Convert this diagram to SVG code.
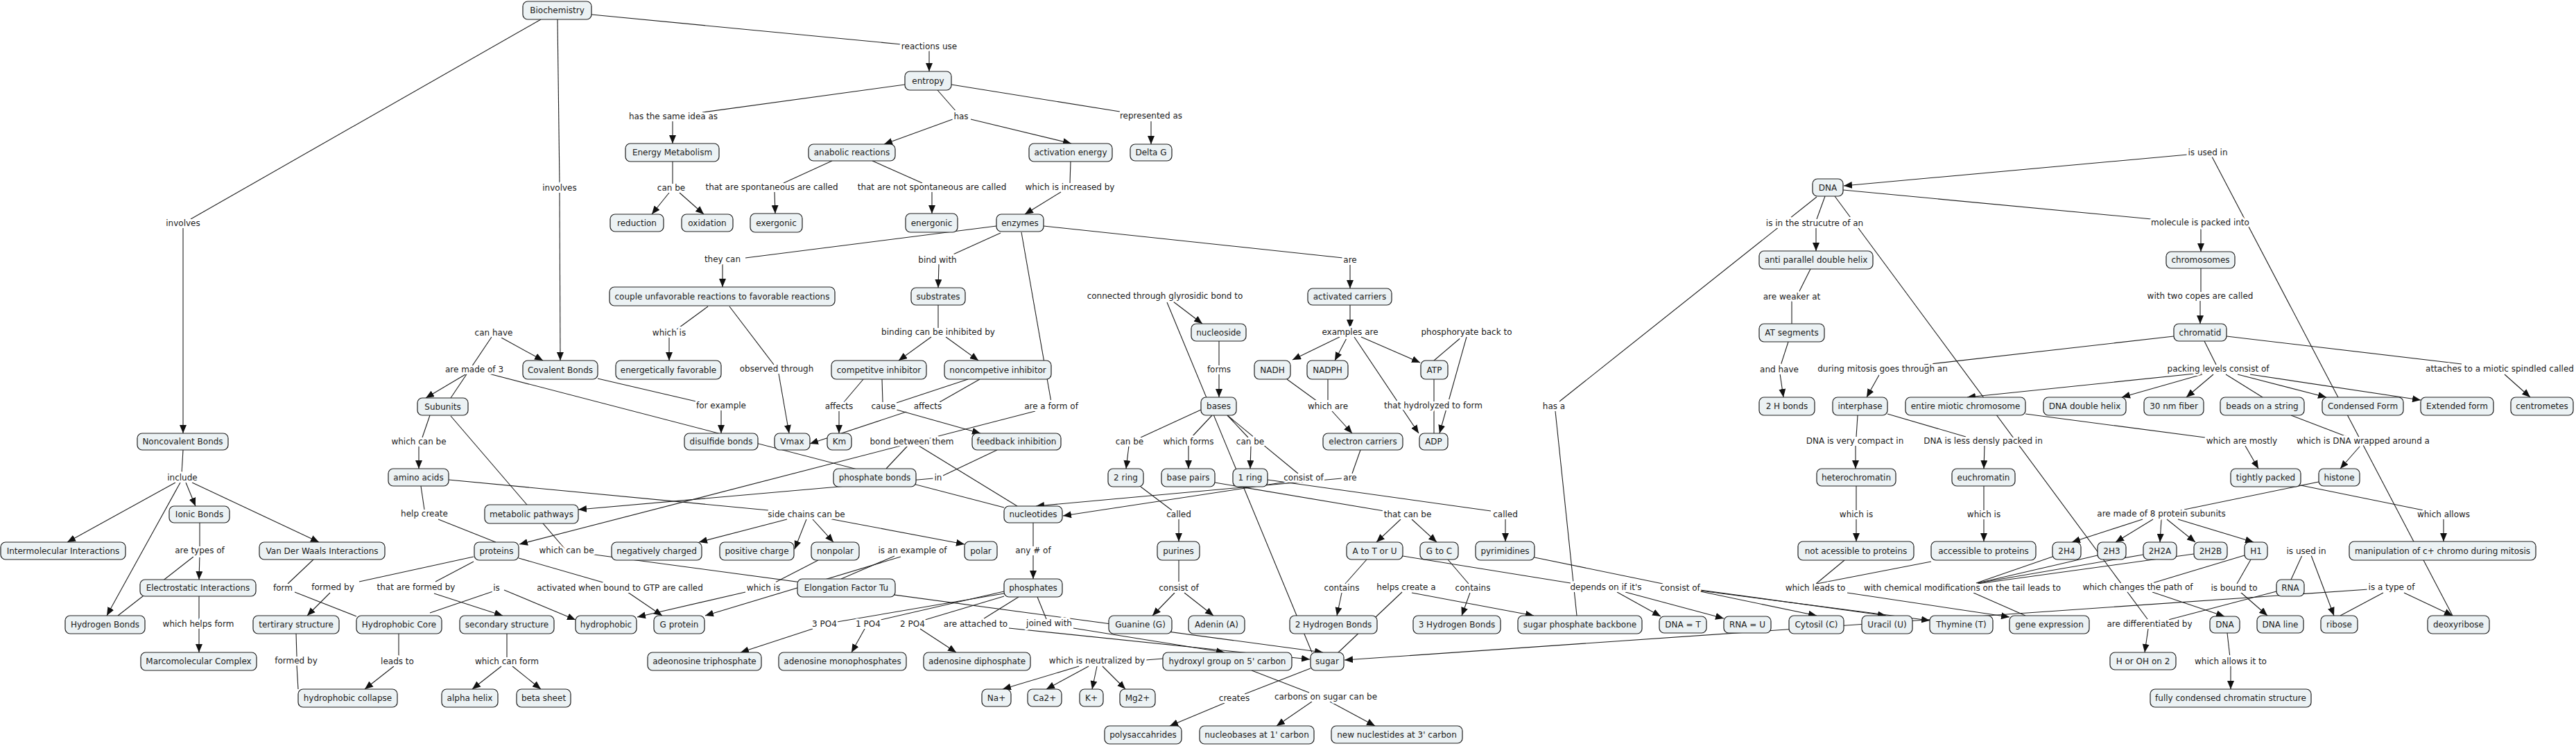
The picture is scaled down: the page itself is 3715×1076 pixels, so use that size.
<svg xmlns="http://www.w3.org/2000/svg" width="3715" height="1076" viewBox="0 0 3715 1076">
<defs>
<marker id="ah" markerUnits="userSpaceOnUse" markerWidth="12" markerHeight="10" refX="12" refY="5" orient="auto"><path d="M0,0 L12,5 L0,10 z" fill="#111"/></marker>
<style>
.c line{stroke:#1e1e1e;stroke-width:1.1;fill:none}
.c line.a{marker-end:url(#ah)}
.n rect{fill:#ecf2f4;stroke:#1e1e1e;stroke-width:1.2}
.n text,.l text{font-family:"DejaVu Sans",Verdana,sans-serif;font-size:12px;fill:#1a1a1a;text-anchor:middle}
.l text{stroke:#fff;stroke-width:6;stroke-linejoin:round;paint-order:stroke}
</style>
</defs>
<rect width="3715" height="1076" fill="#fff"/>
<g class="c" id="connectors">
<line x1="853" y1="21" x2="1300" y2="64"/>
<line class="a" x1="1340" y1="73" x2="1340" y2="103"/>
<line x1="804" y1="28" x2="807" y2="265"/>
<line class="a" x1="807" y1="278" x2="808" y2="520"/>
<line x1="780" y1="28" x2="275" y2="316"/>
<line class="a" x1="264" y1="329" x2="264" y2="625"/>
<line x1="1305" y1="122" x2="1013" y2="162"/>
<line class="a" x1="970" y1="175" x2="970" y2="207"/>
<line x1="1352" y1="130" x2="1380" y2="162"/>
<line class="a" x1="1374" y1="172" x2="1275" y2="208"/>
<line class="a" x1="1400" y1="172" x2="1545" y2="207"/>
<line x1="1372" y1="122" x2="1615" y2="161"/>
<line class="a" x1="1660" y1="175" x2="1660" y2="208"/>
<line x1="970" y1="233" x2="970" y2="265"/>
<line class="a" x1="965" y1="278" x2="940" y2="309"/>
<line class="a" x1="980" y1="278" x2="1015" y2="309"/>
<line x1="1200" y1="232" x2="1130" y2="264"/>
<line class="a" x1="1117" y1="277" x2="1118" y2="308"/>
<line x1="1258" y1="232" x2="1330" y2="264"/>
<line class="a" x1="1344" y1="277" x2="1344" y2="308"/>
<line x1="1544" y1="233" x2="1543" y2="264"/>
<line class="a" x1="1530" y1="277" x2="1478" y2="309"/>
<line x1="1437" y1="326" x2="1075" y2="372"/>
<line class="a" x1="1042" y1="381" x2="1042" y2="414"/>
<line x1="1443" y1="336" x2="1370" y2="369"/>
<line class="a" x1="1354" y1="381" x2="1353" y2="415"/>
<line x1="1505" y1="326" x2="1937" y2="372"/>
<line class="a" x1="1947" y1="381" x2="1947" y2="416"/>
<line x1="1473" y1="335" x2="1516" y2="580"/>
<line class="a" x1="1493" y1="593" x2="749" y2="785"/>
<line x1="1353" y1="440" x2="1353" y2="473"/>
<line class="a" x1="1343" y1="486" x2="1296" y2="520"/>
<line class="a" x1="1364" y1="486" x2="1411" y2="520"/>
<line x1="1021" y1="442" x2="976" y2="475"/>
<line class="a" x1="965" y1="486" x2="965" y2="520"/>
<line x1="1052" y1="442" x2="1116" y2="526"/>
<line class="a" x1="1123" y1="539" x2="1138" y2="625"/>
<line class="a" x1="1947" y1="440" x2="1947" y2="473"/>
<line class="a" x1="1932" y1="486" x2="1864" y2="519"/>
<line class="a" x1="1943" y1="486" x2="1925" y2="520"/>
<line class="a" x1="1953" y1="486" x2="2046" y2="625"/>
<line class="a" x1="1963" y1="486" x2="2048" y2="523"/>
<line x1="2068" y1="520" x2="2108" y2="486"/>
<line class="a" x1="2115" y1="486" x2="2076" y2="625"/>
<line x1="2068" y1="547" x2="2068" y2="579"/>
<line x1="2068" y1="591" x2="2068" y2="625"/>
<line x1="1856" y1="547" x2="1900" y2="579"/>
<line x1="1915" y1="547" x2="1915" y2="579"/>
<line class="a" x1="1921" y1="593" x2="1950" y2="625"/>
<line x1="1962" y1="649" x2="1950" y2="683"/>
<line class="a" x1="1935" y1="690" x2="1494" y2="730"/>
<line x1="1770" y1="599" x2="1872" y2="683"/>
<line class="a" x1="1862" y1="694" x2="1533" y2="744"/>
<line x1="1892" y1="941" x2="1683" y2="436"/>
<line class="a" x1="1692" y1="435" x2="1734" y2="467"/>
<line x1="1758" y1="492" x2="1758" y2="527"/>
<line class="a" x1="1758" y1="539" x2="1758" y2="573"/>
<line x1="1732" y1="591" x2="1645" y2="631"/>
<line class="a" x1="1628" y1="643" x2="1624" y2="676"/>
<line x1="1748" y1="599" x2="1718" y2="631"/>
<line class="a" x1="1714" y1="643" x2="1714" y2="676"/>
<line x1="1770" y1="599" x2="1800" y2="631"/>
<line class="a" x1="1804" y1="643" x2="1803" y2="676"/>
<line x1="1645" y1="702" x2="1690" y2="736"/>
<line class="a" x1="1700" y1="748" x2="1700" y2="781"/>
<line x1="1700" y1="808" x2="1700" y2="842"/>
<line class="a" x1="1694" y1="855" x2="1662" y2="888"/>
<line class="a" x1="1708" y1="855" x2="1750" y2="888"/>
<line x1="1752" y1="696" x2="1996" y2="737"/>
<line class="a" x1="2020" y1="749" x2="1985" y2="782"/>
<line class="a" x1="2036" y1="749" x2="2072" y2="782"/>
<line x1="1828" y1="692" x2="2150" y2="737"/>
<line class="a" x1="2171" y1="749" x2="2171" y2="781"/>
<line x1="1971" y1="807" x2="1940" y2="842"/>
<line class="a" x1="1935" y1="855" x2="1928" y2="888"/>
<line x1="2088" y1="807" x2="2118" y2="842"/>
<line class="a" x1="2120" y1="855" x2="2108" y2="888"/>
<line x1="1929" y1="942" x2="2022" y2="854"/>
<line class="a" x1="2036" y1="855" x2="2212" y2="888"/>
<line x1="2023" y1="802" x2="2265" y2="841"/>
<line class="a" x1="2332" y1="854" x2="2395" y2="889"/>
<line class="a" x1="2344" y1="854" x2="2486" y2="892"/>
<line x1="2213" y1="804" x2="2398" y2="842"/>
<line class="a" x1="2452" y1="853" x2="2620" y2="888"/>
<line class="a" x1="2452" y1="851" x2="2720" y2="888"/>
<line class="a" x1="2452" y1="852" x2="2783" y2="895"/>
<line x1="2620" y1="284" x2="2249" y2="579"/>
<line x1="2243" y1="593" x2="2274" y2="888"/>
<line class="a" x1="3416" y1="850" x2="1939" y2="952"/>
<line x1="3375" y1="888" x2="3437" y2="855"/>
<line class="a" x1="3467" y1="855" x2="3537" y2="888"/>
<line x1="3304" y1="836" x2="3320" y2="801"/>
<line class="a" x1="3333" y1="801" x2="3366" y2="888"/>
<line x1="3537" y1="888" x2="3190" y2="226"/>
<line class="a" x1="3155" y1="223" x2="2659" y2="268"/>
<line x1="2632" y1="283" x2="2620" y2="316"/>
<line class="a" x1="2619" y1="328" x2="2619" y2="362"/>
<line x1="2658" y1="274" x2="3103" y2="316"/>
<line class="a" x1="3174" y1="328" x2="3174" y2="363"/>
<line x1="2646" y1="283" x2="3097" y2="893"/>
<line x1="3283" y1="853" x2="3127" y2="894"/>
<line class="a" x1="3098" y1="907" x2="3093" y2="941"/>
<line x1="2611" y1="388" x2="2594" y2="422"/>
<line x1="2584" y1="434" x2="2584" y2="467"/>
<line x1="2579" y1="493" x2="2568" y2="527"/>
<line class="a" x1="2567" y1="539" x2="2572" y2="573"/>
<line x1="3174" y1="387" x2="3174" y2="421"/>
<line class="a" x1="3173" y1="434" x2="3173" y2="467"/>
<line x1="3135" y1="485" x2="2775" y2="526"/>
<line class="a" x1="2711" y1="539" x2="2692" y2="573"/>
<line x1="3179" y1="492" x2="3196" y2="526"/>
<line class="a" x1="3175" y1="538" x2="2837" y2="573"/>
<line class="a" x1="3176" y1="540" x2="3060" y2="573"/>
<line class="a" x1="3192" y1="540" x2="3153" y2="573"/>
<line x1="3210" y1="540" x2="3263" y2="573"/>
<line class="a" x1="3227" y1="540" x2="3355" y2="573"/>
<line class="a" x1="3245" y1="540" x2="3491" y2="577"/>
<line x1="3211" y1="485" x2="3550" y2="525"/>
<line class="a" x1="3612" y1="540" x2="3649" y2="573"/>
<line x1="2679" y1="599" x2="2677" y2="630"/>
<line class="a" x1="2676" y1="643" x2="2676" y2="676"/>
<line x1="2722" y1="597" x2="2835" y2="630"/>
<line class="a" x1="2862" y1="643" x2="2861" y2="676"/>
<line x1="2677" y1="701" x2="2677" y2="736"/>
<line class="a" x1="2677" y1="749" x2="2677" y2="781"/>
<line x1="2861" y1="701" x2="2861" y2="736"/>
<line class="a" x1="2861" y1="749" x2="2861" y2="781"/>
<line x1="2660" y1="808" x2="2619" y2="842"/>
<line x1="2785" y1="810" x2="2620" y2="842"/>
<line class="a" x1="2664" y1="855" x2="2898" y2="890"/>
<line x1="2960" y1="803" x2="2850" y2="841"/>
<line x1="3025" y1="801" x2="2852" y2="841"/>
<line x1="3091" y1="800" x2="2852" y2="841"/>
<line x1="3164" y1="799" x2="2852" y2="842"/>
<line x1="2846" y1="855" x2="2921" y2="888"/>
<line x1="2921" y1="597" x2="3180" y2="631"/>
<line class="a" x1="3238" y1="643" x2="3257" y2="676"/>
<line x1="3304" y1="599" x2="3385" y2="630"/>
<line class="a" x1="3403" y1="644" x2="3375" y2="676"/>
<line x1="3344" y1="695" x2="3150" y2="735"/>
<line class="a" x1="3090" y1="749" x2="2988" y2="782"/>
<line class="a" x1="3105" y1="749" x2="3051" y2="782"/>
<line class="a" x1="3117" y1="749" x2="3115" y2="782"/>
<line class="a" x1="3125" y1="749" x2="3166" y2="782"/>
<line class="a" x1="3141" y1="749" x2="3250" y2="782"/>
<line x1="3318" y1="700" x2="3495" y2="736"/>
<line class="a" x1="3524" y1="749" x2="3524" y2="781"/>
<line x1="3246" y1="807" x2="3226" y2="842"/>
<line class="a" x1="3231" y1="854" x2="3270" y2="888"/>
<line x1="3237" y1="801" x2="3104" y2="841"/>
<line class="a" x1="3104" y1="854" x2="3208" y2="889"/>
<line x1="3212" y1="913" x2="3216" y2="948"/>
<line class="a" x1="3217" y1="960" x2="3217" y2="994"/>
<line x1="264" y1="649" x2="262" y2="683"/>
<line class="a" x1="253" y1="696" x2="97" y2="782"/>
<line class="a" x1="260" y1="696" x2="154" y2="888"/>
<line class="a" x1="268" y1="696" x2="282" y2="730"/>
<line class="a" x1="277" y1="696" x2="460" y2="782"/>
<line x1="288" y1="754" x2="288" y2="788"/>
<line class="a" x1="288" y1="800" x2="287" y2="836"/>
<line x1="170" y1="888" x2="279" y2="803"/>
<line x1="287" y1="860" x2="287" y2="894"/>
<line class="a" x1="287" y1="906" x2="287" y2="941"/>
<line x1="452" y1="807" x2="415" y2="842"/>
<line x1="425" y1="854" x2="514" y2="889"/>
<line x1="683" y1="803" x2="518" y2="839"/>
<line class="a" x1="476" y1="855" x2="443" y2="888"/>
<line x1="427" y1="914" x2="428" y2="947"/>
<line x1="428" y1="960" x2="430" y2="994"/>
<line x1="575" y1="914" x2="575" y2="948"/>
<line class="a" x1="568" y1="961" x2="526" y2="994"/>
<line x1="683" y1="810" x2="628" y2="839"/>
<line class="a" x1="626" y1="856" x2="725" y2="888"/>
<line x1="620" y1="884" x2="711" y2="853"/>
<line class="a" x1="727" y1="851" x2="830" y2="894"/>
<line x1="731" y1="914" x2="731" y2="948"/>
<line class="a" x1="723" y1="961" x2="681" y2="994"/>
<line class="a" x1="739" y1="961" x2="780" y2="994"/>
<line x1="650" y1="574" x2="709" y2="486"/>
<line class="a" x1="723" y1="487" x2="783" y2="520"/>
<line x1="1448" y1="732" x2="705" y2="539"/>
<line class="a" x1="673" y1="539" x2="614" y2="574"/>
<line x1="620" y1="599" x2="609" y2="631"/>
<line class="a" x1="604" y1="644" x2="604" y2="676"/>
<line x1="650" y1="600" x2="814" y2="791"/>
<line class="a" x1="850" y1="799" x2="1908" y2="941"/>
<line x1="862" y1="546" x2="1004" y2="579"/>
<line class="a" x1="1040" y1="592" x2="1040" y2="625"/>
<line x1="1245" y1="547" x2="1217" y2="580"/>
<line class="a" x1="1210" y1="592" x2="1210" y2="625"/>
<line x1="1413" y1="547" x2="1355" y2="580"/>
<line class="a" x1="1307" y1="594" x2="1168" y2="640"/>
<line x1="1272" y1="547" x2="1273" y2="580"/>
<line x1="1396" y1="547" x2="1293" y2="581"/>
<line class="a" x1="1293" y1="591" x2="1414" y2="625"/>
<line x1="1438" y1="649" x2="1360" y2="686"/>
<line class="a" x1="1346" y1="690" x2="834" y2="735"/>
<line x1="1467" y1="730" x2="1325" y2="643"/>
<line x1="1309" y1="643" x2="1278" y2="676"/>
<line x1="647" y1="692" x2="1108" y2="736"/>
<line class="a" x1="1135" y1="749" x2="1008" y2="782"/>
<line class="a" x1="1163" y1="749" x2="1146" y2="792"/>
<line class="a" x1="1172" y1="749" x2="1202" y2="782"/>
<line class="a" x1="1195" y1="748" x2="1391" y2="785"/>
<line x1="607" y1="701" x2="612" y2="735"/>
<line x1="632" y1="749" x2="715" y2="782"/>
<line x1="1180" y1="808" x2="1114" y2="842"/>
<line class="a" x1="1075" y1="854" x2="919" y2="890"/>
<line x1="748" y1="805" x2="873" y2="841"/>
<line class="a" x1="905" y1="854" x2="955" y2="888"/>
<line x1="1213" y1="835" x2="1290" y2="802"/>
<line class="a" x1="1299" y1="803" x2="1017" y2="888"/>
<line x1="1490" y1="754" x2="1490" y2="788"/>
<line class="a" x1="1490" y1="801" x2="1490" y2="835"/>
<line x1="1448" y1="856" x2="1207" y2="897"/>
<line class="a" x1="1172" y1="907" x2="1068" y2="941"/>
<line x1="1448" y1="853" x2="1270" y2="894"/>
<line class="a" x1="1247" y1="907" x2="1228" y2="941"/>
<line x1="1448" y1="860" x2="1334" y2="894"/>
<line class="a" x1="1327" y1="907" x2="1379" y2="941"/>
<line x1="1469" y1="861" x2="1416" y2="894"/>
<line class="a" x1="1455" y1="906" x2="1889" y2="951"/>
<line x1="1496" y1="861" x2="1509" y2="893"/>
<line class="a" x1="1548" y1="906" x2="1766" y2="941"/>
<line x1="1677" y1="950" x2="1652" y2="952"/>
<line class="a" x1="1556" y1="961" x2="1446" y2="994"/>
<line class="a" x1="1570" y1="961" x2="1509" y2="994"/>
<line class="a" x1="1582" y1="961" x2="1575" y2="994"/>
<line class="a" x1="1590" y1="961" x2="1623" y2="994"/>
<line x1="1890" y1="964" x2="1795" y2="1001"/>
<line class="a" x1="1766" y1="1014" x2="1687" y2="1047"/>
<line x1="1805" y1="967" x2="1888" y2="999"/>
<line class="a" x1="1892" y1="1012" x2="1841" y2="1047"/>
<line class="a" x1="1918" y1="1012" x2="1983" y2="1047"/>
</g>
<g class="l" id="labels">
<text x="1340" y="71">reactions use</text>
<text x="264" y="326">involves</text>
<text x="807" y="275">involves</text>
<text x="971" y="172">has the same idea as</text>
<text x="1386" y="172">has</text>
<text x="1660" y="171">represented as</text>
<text x="968" y="275">can be</text>
<text x="1113" y="274">that are spontaneous are called</text>
<text x="1344" y="274">that are not spontaneous are called</text>
<text x="1543" y="274">which is increased by</text>
<text x="1042" y="378">they can</text>
<text x="1352" y="379">bind with</text>
<text x="1947" y="379">are</text>
<text x="965" y="484">which is</text>
<text x="1353" y="483">binding can be inhibited by</text>
<text x="1947" y="483">examples are</text>
<text x="2115" y="483">phosphoryate back to</text>
<text x="1680" y="431">connected through glyrosidic bond to</text>
<text x="712" y="484">can have</text>
<text x="1120" y="536">observed through</text>
<text x="684" y="537">are made of 3</text>
<text x="1758" y="537">forms</text>
<text x="1040" y="589">for example</text>
<text x="1210" y="590">affects</text>
<text x="1274" y="590">cause</text>
<text x="1338" y="590">affects</text>
<text x="1516" y="590">are a form of</text>
<text x="1915" y="590">which are</text>
<text x="2067" y="589">that hydrolyzed to form</text>
<text x="2241" y="590">has a</text>
<text x="2617" y="326">is in the strucutre of an</text>
<text x="3173" y="325">molecule is packed into</text>
<text x="3184" y="224">is used in</text>
<text x="2584" y="432">are weaker at</text>
<text x="3173" y="431">with two copes are called</text>
<text x="2566" y="537">and have</text>
<text x="2715" y="536">during mitosis goes through an</text>
<text x="3199" y="536">packing levels consist of</text>
<text x="3605" y="536">attaches to a miotic spindled called</text>
<text x="604" y="641">which can be</text>
<text x="1315" y="641">bond between them</text>
<text x="1629" y="641">can be</text>
<text x="1714" y="641">which forms</text>
<text x="1803" y="641">can be</text>
<text x="2675" y="640">DNA is very compact in</text>
<text x="2860" y="640">DNA is less densly packed in</text>
<text x="3233" y="640">which are mostly</text>
<text x="3408" y="640">which is DNA wrapped around a</text>
<text x="263" y="693">include</text>
<text x="1353" y="693">in</text>
<text x="1880" y="693">consist of</text>
<text x="1947" y="693">are</text>
<text x="612" y="745">help create</text>
<text x="1163" y="746">side chains can be</text>
<text x="1700" y="746">called</text>
<text x="2030" y="746">that can be</text>
<text x="2171" y="746">called</text>
<text x="2677" y="746">which is</text>
<text x="2861" y="746">which is</text>
<text x="3117" y="745">are made of 8 protein subunits</text>
<text x="3524" y="746">which allows</text>
<text x="288" y="798">are types of</text>
<text x="817" y="798">which can be</text>
<text x="1316" y="798">is an example of</text>
<text x="1490" y="798">any # of</text>
<text x="3326" y="799">is used in</text>
<text x="408" y="852">form</text>
<text x="480" y="851">formed by</text>
<text x="600" y="851">that are formed by</text>
<text x="716" y="852">is</text>
<text x="894" y="852">activated when bound to GTP are called</text>
<text x="1101" y="852">which is</text>
<text x="1700" y="852">consist of</text>
<text x="1935" y="852">contains</text>
<text x="2028" y="851">helps create a</text>
<text x="2124" y="852">contains</text>
<text x="2316" y="851">depends on if it's</text>
<text x="2423" y="852">consist of</text>
<text x="2618" y="852">which leads to</text>
<text x="2830" y="852">with chemical modifications on the tail leads to</text>
<text x="3083" y="851">which changes the path of</text>
<text x="3222" y="852">is bound to</text>
<text x="3449" y="851">is a type of</text>
<text x="286" y="904">which helps form</text>
<text x="1189" y="904">3 PO4</text>
<text x="1252" y="904">1 PO4</text>
<text x="1316" y="904">2 PO4</text>
<text x="1407" y="904">are attached to</text>
<text x="1513" y="903">joined with</text>
<text x="3100" y="904">are differentiated by</text>
<text x="427" y="957">formed by</text>
<text x="573" y="958">leads to</text>
<text x="731" y="958">which can form</text>
<text x="1582" y="957">which is neutralized by</text>
<text x="3217" y="958">which allows it to</text>
<text x="1912" y="1009">carbons on sugar can be</text>
<text x="1780" y="1011">creates</text>
</g>
<g class="n" id="nodes">
<g id="n_biochem"><rect x="754" y="2" width="99" height="26" rx="7"/><text x="803.5" y="19">Biochemistry</text></g>
<g id="n_entropy"><rect x="1305" y="103" width="67" height="27" rx="7"/><text x="1338.5" y="120.5">entropy</text></g>
<g id="n_energymet"><rect x="902" y="207" width="135" height="26" rx="7"/><text x="969.5" y="224">Energy Metabolism</text></g>
<g id="n_anabolic"><rect x="1166" y="208" width="125" height="24" rx="7"/><text x="1228.5" y="224">anabolic reactions</text></g>
<g id="n_activation"><rect x="1484" y="207" width="120" height="26" rx="7"/><text x="1544" y="224">activation energy</text></g>
<g id="n_deltag"><rect x="1630" y="208" width="60" height="24" rx="7"/><text x="1660" y="224">Delta G</text></g>
<g id="n_reduction"><rect x="880" y="309" width="77" height="25" rx="7"/><text x="918.5" y="325.5">reduction</text></g>
<g id="n_oxidation"><rect x="983" y="309" width="74" height="25" rx="7"/><text x="1020" y="325.5">oxidation</text></g>
<g id="n_exergonic"><rect x="1082" y="308" width="75" height="27" rx="7"/><text x="1119.5" y="325.5">exergonic</text></g>
<g id="n_energonic"><rect x="1306" y="308" width="75" height="27" rx="7"/><text x="1343.5" y="325.5">energonic</text></g>
<g id="n_enzymes"><rect x="1437" y="309" width="68" height="25" rx="7"/><text x="1471" y="325.5">enzymes</text></g>
<g id="n_couple"><rect x="879" y="414" width="325" height="27" rx="7"/><text x="1041.5" y="431.5">couple unfavorable reactions to favorable reactions</text></g>
<g id="n_substrates"><rect x="1314" y="415" width="78" height="25" rx="7"/><text x="1353" y="431.5">substrates</text></g>
<g id="n_actcarriers"><rect x="1886" y="416" width="121" height="24" rx="7"/><text x="1946.5" y="432">activated carriers</text></g>
<g id="n_nucleoside"><rect x="1718" y="467" width="79" height="25" rx="7"/><text x="1757.5" y="483.5">nucleoside</text></g>
<g id="n_covalent"><rect x="754" y="520" width="108" height="27" rx="7"/><text x="808" y="537.5">Covalent Bonds</text></g>
<g id="n_energfav"><rect x="888" y="520" width="152" height="27" rx="7"/><text x="964" y="537.5">energetically favorable</text></g>
<g id="n_compinh"><rect x="1199" y="520" width="137" height="27" rx="7"/><text x="1267.5" y="537.5">competitve inhibitor</text></g>
<g id="n_noncompinh"><rect x="1362" y="520" width="154" height="27" rx="7"/><text x="1439" y="537.5">noncompetive inhibitor</text></g>
<g id="n_nadh"><rect x="1809" y="520" width="52" height="27" rx="7"/><text x="1835" y="537.5">NADH</text></g>
<g id="n_nadph"><rect x="1885" y="520" width="59" height="27" rx="7"/><text x="1914.5" y="537.5">NADPH</text></g>
<g id="n_atp"><rect x="2049" y="520" width="39" height="27" rx="7"/><text x="2068.5" y="537.5">ATP</text></g>
<g id="n_dna"><rect x="2614" y="258" width="44" height="25" rx="7"/><text x="2636" y="274.5">DNA</text></g>
<g id="n_antipar"><rect x="2537" y="362" width="164" height="26" rx="7"/><text x="2619" y="379">anti parallel double helix</text></g>
<g id="n_chromosomes"><rect x="3124" y="363" width="99" height="24" rx="7"/><text x="3173.5" y="379">chromosomes</text></g>
<g id="n_atseg"><rect x="2537" y="467" width="94" height="26" rx="7"/><text x="2584" y="484">AT segments</text></g>
<g id="n_chromatid"><rect x="3135" y="467" width="76" height="25" rx="7"/><text x="3173" y="483.5">chromatid</text></g>
<g id="n_subunits"><rect x="602" y="574" width="73" height="25" rx="7"/><text x="638.5" y="590.5">Subunits</text></g>
<g id="n_noncov"><rect x="198" y="625" width="131" height="24" rx="7"/><text x="263.5" y="641">Noncovalent Bonds</text></g>
<g id="n_disulfide"><rect x="987" y="625" width="106" height="24" rx="7"/><text x="1040" y="641">disulfide bonds</text></g>
<g id="n_vmax"><rect x="1117" y="625" width="51" height="24" rx="7"/><text x="1142.5" y="641">Vmax</text></g>
<g id="n_km"><rect x="1193" y="625" width="35" height="24" rx="7"/><text x="1210.5" y="641">Km</text></g>
<g id="n_feedback"><rect x="1402" y="625" width="128" height="24" rx="7"/><text x="1466" y="641">feedback inhibition</text></g>
<g id="n_electron"><rect x="1908" y="625" width="115" height="24" rx="7"/><text x="1965.5" y="641">electron carriers</text></g>
<g id="n_adp"><rect x="2047" y="625" width="41" height="24" rx="7"/><text x="2067.5" y="641">ADP</text></g>
<g id="n_bases"><rect x="1732" y="573" width="51" height="26" rx="7"/><text x="1757.5" y="590">bases</text></g>
<g id="n_2hbonds"><rect x="2537" y="573" width="80" height="26" rx="7"/><text x="2577" y="590">2 H bonds</text></g>
<g id="n_interphase"><rect x="2643" y="573" width="79" height="26" rx="7"/><text x="2682.5" y="590">interphase</text></g>
<g id="n_entire"><rect x="2748" y="573" width="173" height="26" rx="7"/><text x="2834.5" y="590">entire miotic chromosome</text></g>
<g id="n_dnadh"><rect x="2947" y="573" width="119" height="26" rx="7"/><text x="3006.5" y="590">DNA double helix</text></g>
<g id="n_30nm"><rect x="3092" y="573" width="86" height="26" rx="7"/><text x="3135" y="590">30 nm fiber</text></g>
<g id="n_beads"><rect x="3202" y="573" width="121" height="26" rx="7"/><text x="3262.5" y="590">beads on a string</text></g>
<g id="n_condensed"><rect x="3349" y="573" width="117" height="26" rx="7"/><text x="3407.5" y="590">Condensed Form</text></g>
<g id="n_extended"><rect x="3491" y="573" width="105" height="26" rx="7"/><text x="3543.5" y="590">Extended form</text></g>
<g id="n_centro"><rect x="3621" y="573" width="90" height="26" rx="7"/><text x="3666" y="590">centrometes</text></g>
<g id="n_amino"><rect x="560" y="676" width="87" height="25" rx="7"/><text x="603.5" y="692.5">amino acids</text></g>
<g id="n_phosbonds"><rect x="1202" y="676" width="119" height="26" rx="7"/><text x="1261.5" y="693">phosphate bonds</text></g>
<g id="n_2ring"><rect x="1598" y="676" width="51" height="26" rx="7"/><text x="1623.5" y="693">2 ring</text></g>
<g id="n_basepairs"><rect x="1675" y="676" width="77" height="26" rx="7"/><text x="1713.5" y="693">base pairs</text></g>
<g id="n_1ring"><rect x="1778" y="676" width="50" height="26" rx="7"/><text x="1803" y="693">1 ring</text></g>
<g id="n_hetero"><rect x="2620" y="676" width="114" height="25" rx="7"/><text x="2677" y="692.5">heterochromatin</text></g>
<g id="n_euchro"><rect x="2815" y="676" width="91" height="25" rx="7"/><text x="2860.5" y="692.5">euchromatin</text></g>
<g id="n_tightly"><rect x="3217" y="676" width="101" height="26" rx="7"/><text x="3267.5" y="693">tightly packed</text></g>
<g id="n_histone"><rect x="3344" y="676" width="59" height="25" rx="7"/><text x="3373.5" y="692.5">histone</text></g>
<g id="n_ionic"><rect x="244" y="730" width="87" height="24" rx="7"/><text x="287.5" y="746">Ionic Bonds</text></g>
<g id="n_metabolic"><rect x="699" y="728" width="135" height="27" rx="7"/><text x="766.5" y="745.5">metabolic pathways</text></g>
<g id="n_nucleotides"><rect x="1448" y="730" width="84" height="24" rx="7"/><text x="1490" y="746">nucleotides</text></g>
<g id="n_intermol"><rect x="1" y="782" width="180" height="25" rx="7"/><text x="91" y="798.5">Intermolecular Interactions</text></g>
<g id="n_vdw"><rect x="374" y="782" width="181" height="25" rx="7"/><text x="464.5" y="798.5">Van Der Waals Interactions</text></g>
<g id="n_proteins"><rect x="684" y="782" width="64" height="26" rx="7"/><text x="716" y="799">proteins</text></g>
<g id="n_negchg"><rect x="882" y="782" width="130" height="26" rx="7"/><text x="947" y="799">negatively charged</text></g>
<g id="n_poschg"><rect x="1038" y="782" width="107" height="26" rx="7"/><text x="1091.5" y="799">positive charge</text></g>
<g id="n_nonpolar"><rect x="1170" y="782" width="69" height="26" rx="7"/><text x="1204.5" y="799">nonpolar</text></g>
<g id="n_polar"><rect x="1391" y="781" width="47" height="27" rx="7"/><text x="1414.5" y="798.5">polar</text></g>
<g id="n_purines"><rect x="1669" y="781" width="61" height="27" rx="7"/><text x="1699.5" y="798.5">purines</text></g>
<g id="n_atou"><rect x="1942" y="782" width="81" height="25" rx="7"/><text x="1982.5" y="798.5">A to T or U</text></g>
<g id="n_gtoc"><rect x="2048" y="782" width="55" height="25" rx="7"/><text x="2075.5" y="798.5">G to C</text></g>
<g id="n_pyrim"><rect x="2128" y="781" width="85" height="27" rx="7"/><text x="2170.5" y="798.5">pyrimidines</text></g>
<g id="n_notacc"><rect x="2593" y="781" width="167" height="27" rx="7"/><text x="2676.5" y="798.5">not acessible to proteins</text></g>
<g id="n_acc"><rect x="2785" y="781" width="151" height="27" rx="7"/><text x="2860.5" y="798.5">accessible to proteins</text></g>
<g id="n_2h4"><rect x="2960" y="782" width="41" height="25" rx="7"/><text x="2980.5" y="798.5">2H4</text></g>
<g id="n_2h3"><rect x="3025" y="782" width="41" height="25" rx="7"/><text x="3045.5" y="798.5">2H3</text></g>
<g id="n_2h2a"><rect x="3091" y="782" width="48" height="25" rx="7"/><text x="3115" y="798.5">2H2A</text></g>
<g id="n_2h2b"><rect x="3164" y="782" width="48" height="25" rx="7"/><text x="3188" y="798.5">2H2B</text></g>
<g id="n_h1"><rect x="3237" y="782" width="33" height="25" rx="7"/><text x="3253.5" y="798.5">H1</text></g>
<g id="n_manip"><rect x="3388" y="781" width="269" height="27" rx="7"/><text x="3522.5" y="798.5">manipulation of c+ chromo during mitosis</text></g>
<g id="n_electro"><rect x="202" y="836" width="167" height="24" rx="7"/><text x="285.5" y="852">Electrostatic Interactions</text></g>
<g id="n_eftu"><rect x="1150" y="835" width="141" height="26" rx="7"/><text x="1220.5" y="852">Elongation Factor Tu</text></g>
<g id="n_phosphates"><rect x="1448" y="835" width="84" height="26" rx="7"/><text x="1490" y="852">phosphates</text></g>
<g id="n_rna"><rect x="3283" y="836" width="40" height="24" rx="7"/><text x="3303" y="852">RNA</text></g>
<g id="n_hbonds"><rect x="94" y="888" width="115" height="26" rx="7"/><text x="151.5" y="905">Hydrogen Bonds</text></g>
<g id="n_tertiary"><rect x="365" y="888" width="124" height="26" rx="7"/><text x="427" y="905">tertirary structure</text></g>
<g id="n_hcore"><rect x="514" y="888" width="123" height="26" rx="7"/><text x="575.5" y="905">Hydrophobic Core</text></g>
<g id="n_secondary"><rect x="663" y="888" width="136" height="26" rx="7"/><text x="731" y="905">secondary structure</text></g>
<g id="n_hydrophobic"><rect x="830" y="888" width="88" height="26" rx="7"/><text x="874" y="905">hydrophobic</text></g>
<g id="n_gprotein"><rect x="943" y="888" width="73" height="26" rx="7"/><text x="979.5" y="905">G protein</text></g>
<g id="n_guanine"><rect x="1599" y="888" width="91" height="26" rx="7"/><text x="1644.5" y="905">Guanine (G)</text></g>
<g id="n_adenin"><rect x="1714" y="888" width="81" height="26" rx="7"/><text x="1754.5" y="905">Adenin (A)</text></g>
<g id="n_2hb"><rect x="1860" y="888" width="126" height="26" rx="7"/><text x="1923" y="905">2 Hydrogen Bonds</text></g>
<g id="n_3hb"><rect x="2038" y="888" width="126" height="26" rx="7"/><text x="2101" y="905">3 Hydrogen Bonds</text></g>
<g id="n_spb"><rect x="2189" y="888" width="179" height="26" rx="7"/><text x="2278.5" y="905">sugar phosphate backbone</text></g>
<g id="n_dnat"><rect x="2393" y="889" width="68" height="24" rx="7"/><text x="2427" y="905">DNA = T</text></g>
<g id="n_rnau"><rect x="2486" y="889" width="68" height="24" rx="7"/><text x="2520" y="905">RNA = U</text></g>
<g id="n_cytosil"><rect x="2580" y="888" width="79" height="26" rx="7"/><text x="2619.5" y="905">Cytosil (C)</text></g>
<g id="n_uracil"><rect x="2685" y="888" width="73" height="26" rx="7"/><text x="2721.5" y="905">Uracil (U)</text></g>
<g id="n_thymine"><rect x="2783" y="888" width="91" height="26" rx="7"/><text x="2828.5" y="905">Thymine (T)</text></g>
<g id="n_geneexp"><rect x="2898" y="888" width="115" height="26" rx="7"/><text x="2955.5" y="905">gene expression</text></g>
<g id="n_dna2"><rect x="3187" y="889" width="43" height="24" rx="7"/><text x="3208.5" y="905">DNA</text></g>
<g id="n_dnaline"><rect x="3255" y="888" width="67" height="25" rx="7"/><text x="3288.5" y="904.5">DNA line</text></g>
<g id="n_ribose"><rect x="3347" y="888" width="53" height="25" rx="7"/><text x="3373.5" y="904.5">ribose</text></g>
<g id="n_deoxy"><rect x="3501" y="888" width="89" height="26" rx="7"/><text x="3545.5" y="905">deoxyribose</text></g>
<g id="n_macro"><rect x="203" y="941" width="167" height="26" rx="7"/><text x="286.5" y="958">Marcomolecular Complex</text></g>
<g id="n_atp3"><rect x="934" y="941" width="164" height="26" rx="7"/><text x="1016" y="958">adeonosine triphosphate</text></g>
<g id="n_amp"><rect x="1123" y="941" width="184" height="26" rx="7"/><text x="1215" y="958">adenosine monophosphates</text></g>
<g id="n_adp2"><rect x="1332" y="941" width="154" height="26" rx="7"/><text x="1409" y="958">adenosine diphosphate</text></g>
<g id="n_hydroxyl"><rect x="1677" y="941" width="186" height="26" rx="7"/><text x="1770" y="958">hydroxyl group on 5' carbon</text></g>
<g id="n_sugar"><rect x="1890" y="941" width="48" height="26" rx="7"/><text x="1914" y="958">sugar</text></g>
<g id="n_horoh"><rect x="3043" y="941" width="95" height="25" rx="7"/><text x="3090.5" y="957.5">H or OH on 2</text></g>
<g id="n_hcollapse"><rect x="430" y="994" width="143" height="26" rx="7"/><text x="501.5" y="1011">hydrophobic collapse</text></g>
<g id="n_alpha"><rect x="637" y="994" width="81" height="26" rx="7"/><text x="677.5" y="1011">alpha helix</text></g>
<g id="n_beta"><rect x="745" y="994" width="78" height="26" rx="7"/><text x="784" y="1011">beta sheet</text></g>
<g id="n_na"><rect x="1416" y="994" width="42" height="25" rx="7"/><text x="1437" y="1010.5">Na+</text></g>
<g id="n_ca"><rect x="1482" y="994" width="49" height="25" rx="7"/><text x="1506.5" y="1010.5">Ca2+</text></g>
<g id="n_k"><rect x="1557" y="994" width="34" height="25" rx="7"/><text x="1574" y="1010.5">K+</text></g>
<g id="n_mg"><rect x="1615" y="994" width="51" height="26" rx="7"/><text x="1640.5" y="1011">Mg2+</text></g>
<g id="n_fullycond"><rect x="3101" y="994" width="232" height="26" rx="7"/><text x="3217" y="1011">fully condensed chromatin structure</text></g>
<g id="n_polysac"><rect x="1593" y="1047" width="111" height="26" rx="7"/><text x="1648.5" y="1064">polysaccahrides</text></g>
<g id="n_nucleobases"><rect x="1730" y="1047" width="165" height="26" rx="7"/><text x="1812.5" y="1064">nucleobases at 1' carbon</text></g>
<g id="n_newnuc"><rect x="1920" y="1047" width="189" height="25" rx="7"/><text x="2014.5" y="1063.5">new nuclestides at 3' carbon</text></g>
</g>
</svg>
